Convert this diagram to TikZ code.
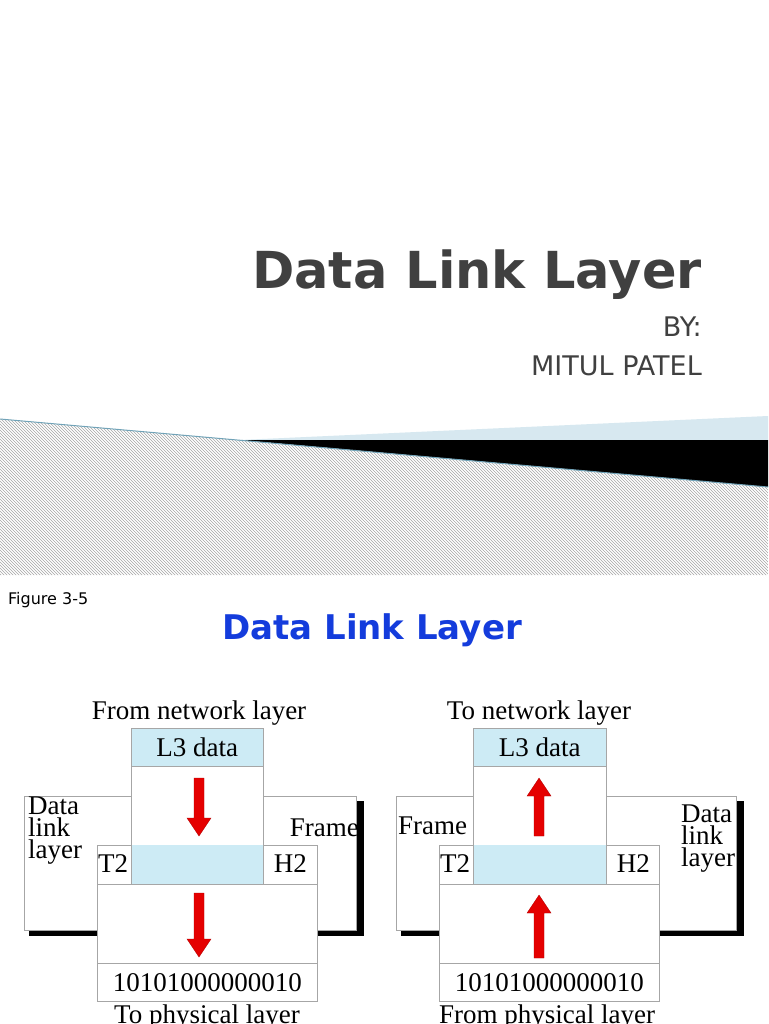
\documentclass[tikz,border=0pt]{standalone}
\usepackage{fontspec}
\setmainfont{DejaVu Sans}
\newfontfamily\tms{Liberation Serif}
\usetikzlibrary{patterns}
\definecolor{lb}{RGB}{205,235,245}
\definecolor{band}{RGB}{215,232,240}
\definecolor{ttl}{RGB}{64,64,64}
\definecolor{blu}{RGB}{20,60,220}
\tikzset{
 bx/.style={draw=gray!70, line width=0.6pt},
 fillb/.style={fill=lb},
 arr/.style={fill=red!90!black, draw=red!70!black, line width=0.3pt},
 lbl/.style={font=\tms\fontsize{27}{22}\selectfont, inner sep=0pt},
 shad/.style={fill=black}
}
\begin{document}
\begin{tikzpicture}[x=1pt,y=-1pt]
\useasboundingbox (0,0) rectangle (768,1024);
\fill[white] (0,0) rectangle (768,1024);
% band
\fill[band] (240,440) -- (768,416) -- (768,440) -- cycle;
\fill[black] (240,440) -- (768,440) -- (768,487) -- cycle;
\fill[pattern=north west lines, pattern color=gray!70] (0,419) -- (768,487) -- (768,575) -- (0,575) -- cycle;
\draw[gray!60!cyan, line width=1pt] (0,419) -- (768,487);
% titles
\node[anchor=base east, text=ttl, font=\bfseries\fontsize{51}{51}\selectfont, inner sep=0pt] (t) at (702,288) {Data Link Layer};
\node[anchor=base east, text=ttl, font=\fontsize{27}{27}\selectfont, inner sep=0pt] (by) at (702,336) {BY:};
\node[anchor=base east, text=ttl, font=\fontsize{27}{27}\selectfont, inner sep=0pt] (mp) at (702,375) {MITUL PATEL};
\node[anchor=base west, font=\fontsize{16}{16}\selectfont, inner sep=0pt] (fig) at (8,604) {Figure 3-5};
\node[anchor=base, text=blu, font=\bfseries\fontsize{34}{34}\selectfont, inner sep=0pt] (dl) at (372,639) {Data Link Layer};
% ---------- left diagram
\fill[shad] (29,930) rectangle (364,936);
\fill[shad] (357,801) rectangle (364,936);
\fill[white] (24,796) rectangle (356,930);
\draw[bx] (24,796) rectangle (356,930);
\fill[white] (131,766) rectangle (263,845);
\draw[bx] (131,766) -- (131,845) (263,766) -- (263,845);
\node[bx, fillb, minimum width=132pt, minimum height=38pt, anchor=north west, lbl] (l3a) at (131,728) {L3 data};
\fill[white] (97,884) rectangle (317,963);
\draw[bx] (97,884) -- (97,963) (317,884) -- (317,963);
\draw[bx] (97,845) rectangle (317,884);
\fill[lb] (131,845) rectangle (263,884);
\draw[bx] (131,845) -- (131,884) (263,845) -- (263,884);
\node[lbl, anchor=west] (t2a) at (98,864) {T2};
\node[lbl, anchor=east] (h2a) at (307,864) {H2};
\node[bx, minimum width=220pt, minimum height=38pt, anchor=north west, lbl] (bits1) at (97,963) {10101000000010};
\node[lbl, anchor=base] at (199,719) {From network layer};
\node[lbl, anchor=base] at (207,1023) {To physical layer};
\node[lbl, anchor=base east] at (359,836) {Frame};
\node[lbl, anchor=north west, align=left, font=\tms\fontsize{27}{22}\selectfont] at (28,797) {Data\\link\\layer};
\fill[arr] (194,778) -- (204,778) -- (204,818) -- (211,818) -- (199,836) -- (187,818) -- (194,818) -- cycle;
\fill[arr] (194,893) -- (204,893) -- (204,939) -- (211,939) -- (199,957) -- (187,939) -- (194,939) -- cycle;
% ---------- right diagram
\fill[shad] (401,930) rectangle (744,936);
\fill[shad] (737,801) rectangle (744,936);
\fill[white] (396,796) rectangle (736,930);
\draw[bx] (396,796) rectangle (736,930);
\fill[white] (473,766) rectangle (606,845);
\draw[bx] (473,766) -- (473,845) (606,766) -- (606,845);
\node[bx, fillb, minimum width=133pt, minimum height=38pt, anchor=north west, lbl] (l3b) at (473,728) {L3 data};
\fill[white] (439,884) rectangle (659,963);
\draw[bx] (439,884) -- (439,963) (659,884) -- (659,963);
\draw[bx] (439,845) rectangle (659,884);
\fill[lb] (473,845) rectangle (606,884);
\draw[bx] (473,845) -- (473,884) (606,845) -- (606,884);
\node[lbl, anchor=west] (t2b) at (440,864) {T2};
\node[lbl, anchor=east] (h2b) at (650,864) {H2};
\node[bx, minimum width=220pt, minimum height=38pt, anchor=north west, lbl] (bits2) at (439,963) {10101000000010};
\node[lbl, anchor=base] at (539,719) {To network layer};
\node[lbl, anchor=base] at (547,1023) {From physical layer};
\node[lbl, anchor=base west] at (398,834) {Frame};
\node[lbl, anchor=north west, align=left, font=\tms\fontsize{27}{22}\selectfont] at (681,805) {Data\\link\\layer};
\fill[arr] (534,836) -- (544,836) -- (544,796) -- (551,796) -- (539,778) -- (527,796) -- (534,796) -- cycle;
\fill[arr] (534,958) -- (544,958) -- (544,913) -- (551,913) -- (539,895) -- (527,913) -- (534,913) -- cycle;
\end{tikzpicture}
\end{document}
